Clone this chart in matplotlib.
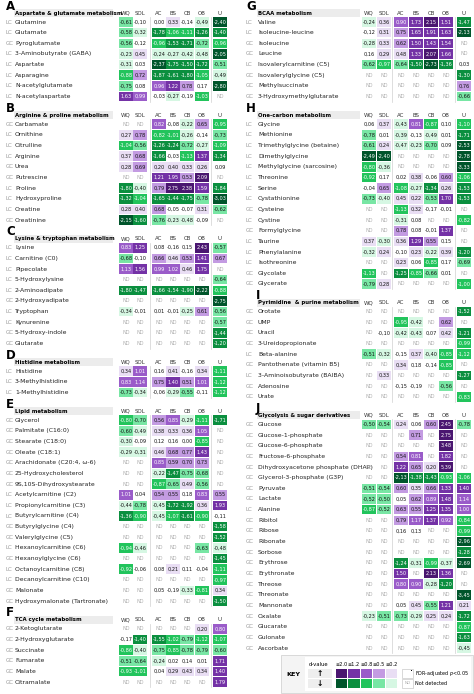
import matplotlib
matplotlib.use("Agg")
import matplotlib.pyplot as plt
from matplotlib.patches import Rectangle

N = None
columns = ["WQ", "SOL", "AC", "BS", "CB", "OB", "U"]

# ---------- data ----------
A_title = "Aspartate & glutamate metabolism"
A_names = ["Glutamine", "Glutamate", "Pyroglutamate", "3-Aminobutyrate (GABA)", "Aspartate",
           "Asparagine", "N-acetylglutamate", "N-acetylaspartate"]
A_pref = ["LC", "LC", "GC", "LC", "LC", "LC", "LC", "LC"]
A_vals = [[-0.61, -0.10, 0.00, 0.33, -0.14, -0.49, -2.40],
          [-0.58, -0.32, -1.78, -1.06, -1.11, -1.26, -1.40],
          [-0.56, -0.12, -0.96, -1.53, -1.71, -0.72, -0.96],
          [-0.23, 0.45, -0.24, -0.27, -0.42, -0.48, -2.05],
          [-0.31, 0.03, -2.37, -1.75, -1.50, -1.72, -0.51],
          [-0.88, 0.72, -1.87, -1.61, -1.80, -1.05, -0.49],
          [-0.75, 0.08, 0.96, 1.22, 0.78, 0.17, -2.80],
          [1.63, 0.99, -0.03, -0.27, -0.19, -1.03, N]]

B_title = "Arginine & proline metabolism"
B_names = ["Carbamate", "Ornithine", "Citrulline", "Arginine", "Urea", "Putrescine", "Proline",
           "Hydroxyproline", "Creatine", "Creatinine"]
B_pref = ["GC", "LC", "LC", "LC", "GC", "GC", "LC", "LC", "LC", "GC"]
B_vals = [[N, N, 0.82, -0.08, -0.22, 0.65, -0.95],
          [0.27, 0.78, -0.82, -1.01, -0.26, -0.14, -0.73],
          [-1.04, -0.56, -1.26, -1.24, -0.72, -0.27, -1.09],
          [0.37, 0.68, -1.66, -0.03, -1.13, 1.37, -1.34],
          [0.28, 0.69, 0.20, 0.40, 0.33, 0.26, 0.09],
          [N, N, 1.21, 1.95, 0.53, 2.09, N],
          [-1.80, -0.40, 0.79, 2.75, 2.38, 1.59, -1.84],
          [-1.32, -1.04, -1.65, -1.44, -1.75, -0.78, -3.03],
          [0.28, 0.40, 0.68, -0.05, -0.07, 0.31, -0.62],
          [-2.15, -1.60, -0.76, -0.23, -0.48, -0.09, N]]

C_title = "Lysine & tryptophan metabolism"
C_names = ["Lysine", "Carnitine (C0)", "Pipecolate", "5-Hydroxylysine", "2-Aminoadipate",
           "2-Hydroxyadipate", "Tryptophan", "Kynurenine", "5-Hydroxy-indole", "Glutarate"]
C_pref = ["LC", "LC", "LC", "LC", "LC", "GC", "LC", "LC", "GC", "GC"]
C_vals = [[0.83, 1.25, 0.08, -0.16, 0.15, 2.43, -0.57],
          [-0.68, -0.10, 0.66, 0.46, 0.53, 1.41, 0.67],
          [1.13, 1.56, 0.99, 1.02, 0.46, 1.75, N],
          [N, N, N, N, N, N, -0.64],
          [-1.80, -1.47, -1.66, -1.54, -1.90, -2.22, -0.88],
          [N, N, N, N, N, N, -2.75],
          [-0.34, -0.01, 0.01, -0.01, -0.25, 0.61, -0.56],
          [N, N, N, N, N, N, -0.57],
          [N, N, N, N, N, N, -1.44],
          [N, N, N, N, N, N, -1.20]]

D_title = "Histidine metabolism"
D_names = ["Histidine", "3-Methylhistidine", "1-Methylhistidine"]
D_pref = ["LC", "LC", "LC"]
D_vals = [[0.34, 1.01, 0.16, 0.41, -0.16, 0.34, -1.11],
          [0.83, 1.14, 0.75, 1.40, 0.51, 1.01, -1.12],
          [-0.73, -0.34, -0.06, -0.29, -0.55, -0.11, -1.12]]

E_title = "Lipid metabolism"
E_names = ["Glycerol", "Palmitate (C16:0)", "Stearate (C18:0)", "Oleate (C18:1)",
           "Arachidonate (C20:4, ω-6)", "25-Hydroxycholesterol", "9S,10S-Dihydroxystearate",
           "Acetylcarnitine (C2)", "Propionylcarnitine (C3)", "Butyrylcarnitine (C4)",
           "Butyrylglycine (C4)", "Valerylglycine (C5)", "Hexanoylcarnitine (C6)",
           "Hexanoylglycine (C6)", "Octanoylcarnitine (C8)", "Decanoylcarnitine (C10)",
           "Malonate", "Hydroxymalonate (Tartronate)"]
E_pref = ["GC"] * 7 + ["LC", "LC", "LC", "GC", "GC", "LC", "GC", "LC", "LC", "GC", "GC"]
E_vals = [[-0.80, -0.70, 0.56, 0.85, -0.29, -1.11, -1.71],
          [-0.60, -0.49, 0.38, 0.33, 0.36, 1.05, N],
          [-0.30, -0.09, 0.12, 0.16, 0.00, -0.85, N],
          [-0.29, -0.31, 0.46, 0.68, 0.77, 1.43, N],
          [N, N, 0.85, 0.59, 0.70, 0.73, N],
          [N, N, -0.22, -1.47, -0.75, -0.68, N],
          [N, N, -0.87, -0.65, 0.49, -0.56, N],
          [1.01, 0.04, 0.54, 0.55, 0.18, 0.83, 0.55],
          [-0.44, -0.78, -0.45, -1.72, -1.92, 0.36, 1.93],
          [-1.36, -0.90, -0.45, -1.07, -1.61, -0.90, -0.11],
          [N, N, N, N, N, N, -1.58],
          [N, N, N, N, N, N, -1.52],
          [-0.94, -0.46, N, N, N, -0.63, -0.48],
          [N, N, N, N, N, N, -1.45],
          [-0.92, -0.06, 0.08, 0.21, 0.11, -0.04, -1.11],
          [N, N, N, N, N, N, -0.97],
          [N, N, 0.05, -0.19, -0.33, -0.81, 0.34],
          [N, N, N, N, N, N, -1.50]]

F_title = "TCA cycle metabolism"
F_names = ["2-Ketoglutarate", "2-Hydroxyglutarate", "Succinate", "Fumarate", "Malate", "Citramalate"]
F_pref = ["GC"] * 6
F_vals = [[N, N, N, N, N, 0.20, 0.80],
          [-0.17, -1.40, -1.55, -1.02, -0.79, -1.12, -1.07],
          [-0.86, -0.40, -0.75, -0.85, -0.78, -0.79, -0.60],
          [-0.51, -0.64, -0.24, 0.02, 0.14, 0.01, 1.71],
          [-0.93, -1.01, 0.04, 0.29, 0.43, 0.34, 1.40],
          [N, N, N, N, N, N, 1.79]]

G_title = "BCAA metabolism"
G_names = ["Valine", "Isoleucine-leucine", "Isoleucine", "Leucine", "Isovalerylcarnitine (C5)",
           "Isovalerylglycine (C5)", "Methylsuccinate", "3-Hydroxymethylglutarate"]
G_pref = ["LC", "LC", "GC", "GC", "LC", "GC", "GC", "GC"]
G_vals = [[-0.24, 0.36, 0.90, 1.73, 2.15, 1.51, -1.47],
          [-0.12, 0.31, 0.75, 1.65, 1.91, 1.63, -2.13],
          [-0.28, 0.33, 0.62, 1.50, 1.43, 1.54, N],
          [0.16, 0.29, 0.48, 1.33, 2.07, 1.66, N],
          [-0.62, -0.97, -0.64, -1.50, -2.73, -1.36, 0.03],
          [N, N, N, N, N, N, -1.30],
          [N, N, N, N, N, N, 0.76],
          [N, N, N, N, N, N, -0.66]]

H_title = "One-carbon metabolism"
H_names = ["Glycine", "Methionine", "Trimethylglycine (betaine)", "Dimethylglycine",
           "Methylglycine (sarcosine)", "Threonine", "Serine", "Cystathionine", "Cysteine",
           "Cystine", "Formylglycine", "Taurine", "Phenylalanine", "Isothreonine",
           "Glycolate", "Glycerate"]
H_pref = ["LC"] * 8 + ["GC", "LC", "GC", "LC", "LC", "LC", "GC", "GC"]
H_vals = [[0.06, 0.37, -0.43, 0.81, -0.87, 0.10, -1.10],
          [-0.78, 0.01, -0.39, -0.13, -0.49, 0.01, -1.71],
          [-0.61, 0.24, -0.47, -0.23, -0.70, 0.09, -2.53],
          [-2.49, -2.40, N, N, N, N, -2.78],
          [-0.80, -0.36, N, N, N, N, -3.33],
          [-0.92, 0.17, 0.02, 0.38, -0.06, 0.60, -1.06],
          [-0.04, 0.65, -1.08, -0.27, -1.34, 0.26, -1.53],
          [-0.73, -0.40, 0.45, 0.22, -0.53, 1.70, -1.53],
          [N, N, -1.13, 0.32, -0.17, -0.01, N],
          [N, N, -0.31, 0.08, N, N, -0.82],
          [N, N, 0.78, 0.08, -0.01, 1.37, N],
          [0.37, -0.30, 0.36, 1.29, 0.55, 0.15, N],
          [-0.32, 0.24, -0.10, 0.23, -0.22, 0.39, -1.20],
          [N, N, 0.23, 0.06, -0.85, 0.17, -0.69],
          [-1.13, N, -1.25, -0.85, -0.66, 0.01, N],
          [-0.79, 0.28, N, N, N, N, -1.00]]

I_title = "Pyrimidine  & purine metabolism"
I_names = ["Orotate", "UMP", "Uracil", "3-Ureidopropionate", "Beta-alanine",
           "Pantothenate (vitamin B5)", "3-Aminoisobutyrate (BAIBA)", "Adenosine", "Urate"]
I_pref = ["GC", "GC", "GC", "GC", "LC", "GC", "LC", "GC", "GC"]
I_vals = [[N, N, N, N, N, N, -1.52],
          [N, N, -0.95, -0.42, N, 0.62, N],
          [N, -0.10, -0.42, -0.43, 0.07, 0.42, -1.21],
          [N, N, N, N, N, N, -0.99],
          [-0.51, -0.32, -0.15, 0.37, -0.40, -0.85, -1.12],
          [N, N, 0.34, 0.18, -0.14, -0.85, N],
          [N, 0.33, N, N, N, N, -1.27],
          [N, N, -0.15, -0.19, N, -0.56, N],
          [N, N, N, N, N, N, -0.83]]

J_title = "Glycolysis & sugar derivatives"
J_names = ["Glucose", "Glucose-1-phosphate", "Glucose-6-phosphate", "Fructose-6-phosphate",
           "Dihydroxyacetone phosphate (DHAP)", "Glycerol-3-phosphate (G3P)", "Pyruvate",
           "Lactate", "Alanine", "Ribitol", "Ribose", "Ribonate", "Sorbose", "Erythrose",
           "Erythronate", "Threose", "Threonate", "Mannonate", "Oxalate", "Glucarate",
           "Gulonate", "Ascorbate"]
J_pref = ["GC"] * 8 + ["LC"] + ["GC"] * 13
J_vals = [[-0.50, -0.54, 0.24, 0.06, 0.60, 2.45, -0.78],
          [N, N, N, 0.71, N, 2.75, N],
          [N, N, N, N, N, 3.48, N],
          [N, N, 0.54, 0.81, N, 1.82, N],
          [N, N, 1.22, 0.65, 0.20, 5.39, N],
          [N, N, -2.13, -1.38, -1.43, -0.93, -1.06],
          [-0.51, -0.54, 0.60, 0.35, 0.66, 1.33, 1.40],
          [-0.52, -0.50, 0.05, 0.62, 0.89, 1.48, 1.14],
          [-0.87, -0.52, 0.63, 0.55, 1.25, 1.35, 1.00],
          [N, N, 0.79, 1.17, 1.37, 0.92, -0.84],
          [N, N, 0.16, 0.13, N, N, -0.99],
          [N, N, N, N, N, N, -2.96],
          [N, N, N, N, N, N, -1.28],
          [N, N, -1.24, -0.31, -0.99, -0.37, -2.69],
          [N, N, 1.50, N, 2.13, 1.36, N],
          [N, N, 0.80, 0.90, -0.28, -1.20, N],
          [N, N, N, N, N, N, -3.45],
          [N, N, 0.05, 0.45, -0.55, 1.21, 0.21],
          [-0.23, -0.51, -0.73, -0.29, 0.25, 0.24, -1.72],
          [N, N, N, N, N, N, -0.87],
          [N, N, N, N, N, N, -1.63],
          [N, N, N, N, N, N, -0.45]]

key_bins = ["≥2.0", "≥1.2", "≥0.8", "≥0.5", "≥0.2"]

# ---------- style ----------
PURPLES = ["#4a1670", "#7432a6", "#9a5cc9", "#c39be2", "#e9def4"]
GREENS = ["#00552b", "#0b8f3f", "#22c45c", "#78e6a4", "#d6f7e3"]
THR = [2.0, 1.2, 0.8, 0.5, 0.2]

def cell_color(v):
    for i, t in enumerate(THR):
        if abs(v) >= t:
            return (PURPLES if v > 0 else GREENS)[i]
    return "white"

W, H = 474, 694
fig = plt.figure(figsize=(W / 100, H / 100), dpi=100)
ax = fig.add_axes([0, 0, 1, 1])
ax.set_xlim(0, W)
ax.set_ylim(H, 0)
ax.axis("off")

PITCH = 10.65
GAP = 17.0
CW, CH = 13.4, 9.6
FS_LAB, FS_VAL, FS_HEAD, FS_TITLE = 4.4, 3.6, 4.0, 3.9

def draw_column(panels, cfg, y0):
    y = y0
    for letter, title, names, prefs, vals, lx in panels:
        ax.text(lx, y - 16, letter, fontsize=8.5, fontweight="bold", va="center", ha="left")
        hy = y - 9
        ax.add_patch(Rectangle((cfg["label"] - 1, hy - 4), cfg["band_end"] - cfg["label"] + 1, 8,
                               facecolor="#ececec", edgecolor="none"))
        ax.text(cfg["label"], hy, title, fontsize=FS_TITLE, fontweight="bold", va="center")
        for c, xc in zip(columns, cfg["cols"]):
            ax.text(xc, hy, c, fontsize=FS_HEAD, ha="center", va="center", color="#333333")
        ytop = y - 5
        ybot = y + (len(names) - 1) * PITCH + 5
        for xs in cfg["seps"]:
            ax.plot([xs, xs], [ytop, ybot], color="#d0d0d0", lw=0.5)
        for i, (nm, pf, row) in enumerate(zip(names, prefs, vals)):
            yy = y + i * PITCH
            ax.text(cfg["pref"], yy, pf, fontsize=FS_LAB - 0.4, color="#999999", va="center")
            ax.text(cfg["label"], yy, nm, fontsize=FS_LAB, color="#222222", va="center")
            for xc, v in zip(cfg["cols"], row):
                if v is None:
                    ax.text(xc, yy, "ND", fontsize=FS_VAL, color="#b0b0b0", ha="center", va="center")
                    continue
                col = cell_color(v)
                if col != "white":
                    ax.add_patch(Rectangle((xc - CW / 2, yy - CH / 2), CW, CH, facecolor=col,
                                           edgecolor="none"))
                tc = "white" if abs(v) >= 0.8 else "#111111"
                ax.text(xc, yy, f"{v:.2f}".replace(".", ","), fontsize=FS_VAL, color=tc,
                        ha="center", va="center")
        y = y + (len(names) - 1) * PITCH + PITCH + GAP

left_cfg = dict(pref=6, label=15, band_end=113,
                cols=[126, 140, 159, 173, 187, 202, 220], seps=[150, 211])
right_cfg = dict(pref=246, label=258, band_end=360,
                 cols=[369, 384, 401, 416, 431, 446, 464], seps=[392, 455])

draw_column([("A", A_title, A_names, A_pref, A_vals, 6),
             ("B", B_title, B_names, B_pref, B_vals, 6),
             ("C", C_title, C_names, C_pref, C_vals, 6),
             ("D", D_title, D_names, D_pref, D_vals, 6),
             ("E", E_title, E_names, E_pref, E_vals, 6),
             ("F", F_title, F_names, F_pref, F_vals, 6)], left_cfg, 22)
draw_column([("G", G_title, G_names, G_pref, G_vals, 246),
             ("H", H_title, H_names, H_pref, H_vals, 246),
             ("I", I_title, I_names, I_pref, I_vals, 256),
             ("J", J_title, J_names, J_pref, J_vals, 256)], right_cfg, 22)

# ---------- key ----------
ax.add_patch(Rectangle((281, 655), 192, 38, facecolor="#f4f4f4", edgecolor="#cccccc", lw=0.5))
ax.add_patch(Rectangle((305, 657), 166, 34, facecolor="white", edgecolor="none"))
ax.text(293, 674, "KEY", fontsize=4.6, fontweight="bold", ha="center", va="center")
ax.text(319, 664, "d-value", fontsize=3.8, ha="center", va="center")
ax.add_patch(Rectangle((308, 669), 24, 8.5, facecolor="#eeeeee", edgecolor="none"))
ax.add_patch(Rectangle((308, 679), 24, 8.5, facecolor="#eeeeee", edgecolor="none"))
ax.text(320, 673.3, "↑", fontsize=5.5, fontweight="bold", ha="center", va="center")
ax.text(320, 683.3, "↓", fontsize=5.5, fontweight="bold", ha="center", va="center")
for i, lab in enumerate(key_bins):
    x = 336 + i * 12.5
    ax.text(x + 5.5, 664, lab, fontsize=3.6, ha="center", va="center")
    ax.add_patch(Rectangle((x, 669), 11.5, 8.5, facecolor=PURPLES[i], edgecolor="none"))
    ax.add_patch(Rectangle((x, 679), 11.5, 8.5, facecolor=GREENS[i], edgecolor="none"))
ax.add_patch(Rectangle((402, 669), 11, 8.5, facecolor="white", edgecolor="#bbbbbb", lw=0.4))
ax.add_patch(Rectangle((411, 669.5), 1.5, 1.5, facecolor="black", edgecolor="none"))
ax.text(415, 673.3, "FDR-adjusted $p$<0.05", fontsize=3.5, va="center")
ax.add_patch(Rectangle((402, 679), 11, 8.5, facecolor="white", edgecolor="#bbbbbb", lw=0.4))
ax.text(407.5, 683.3, "ND", fontsize=3.0, color="#aaaaaa", ha="center", va="center")
ax.text(415, 683.3, "Not detected", fontsize=3.5, va="center")

fig.savefig("out.png", dpi=100)
